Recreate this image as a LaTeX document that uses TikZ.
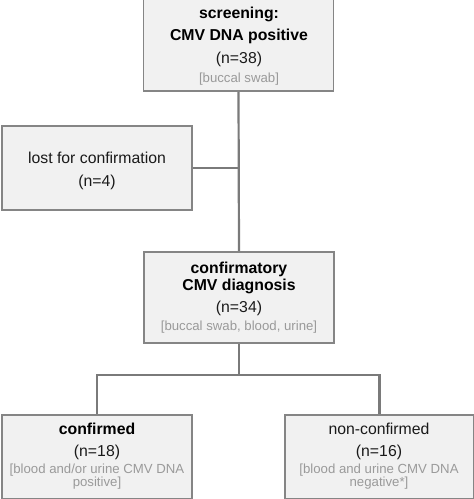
\documentclass[tikz,border=0pt]{standalone}
\usepackage{fontspec}
\setmainfont{Liberation Sans}
\definecolor{boxfill}{HTML}{F1F1F1}
\definecolor{boxline}{HTML}{858585}
\definecolor{conn}{HTML}{7A7A7A}
\definecolor{maintext}{HTML}{1A1A1A}
\definecolor{subtext}{HTML}{9A9A9A}
\pgfdeclarelayer{bg}
\pgfsetlayers{bg,main}
\tikzset{
  box/.style={draw=boxline, line width=1.6pt, fill=boxfill, inner sep=0pt},
  connector/.style={draw=conn, line width=2.2pt},
  ttl/.style={anchor=base, inner sep=0pt, font=\fontsize{15.8}{18}\selectfont\bfseries, text=black},
  txt/.style={anchor=base, inner sep=0pt, font=\fontsize{15.8}{18}\selectfont, text=maintext},
  sub/.style={anchor=base, inner sep=0pt, font=\fontsize{13.2}{15}\selectfont, text=subtext},
}
\begin{document}
\begin{tikzpicture}[x=1pt, y=-1pt]
\useasboundingbox (0,0) rectangle (474,499);
% boxes
\node[box, minimum width=190pt, minimum height=92pt] (top) at (238.5,45) {};
\node[box, minimum width=190pt, minimum height=84pt] (lost) at (97,168) {};
\node[box, minimum width=190pt, minimum height=91pt] (conf) at (239,297.5) {};
\node[box, minimum width=190pt, minimum height=84pt] (yes) at (97,457) {};
\node[box, minimum width=189pt, minimum height=84pt] (no) at (379.5,457) {};
% connectors
\begin{pgfonlayer}{bg}
\coordinate (mid) at (top.south |- lost.east);
\coordinate (split) at ([yshift=-31pt]conf.south);
\draw[connector] (top.south) -- (conf.north);
\draw[connector] (mid) -- (lost.east);
\draw[connector] (conf.south) -- (split);
\draw[connector, line cap=rect] (split -| yes.north) -- (split -| no.north);
\draw[connector] (split -| yes.north) -- (yes.north);
\draw[connector] (split -| no.north) -- (no.north);
\end{pgfonlayer}
% text: screening
\node[ttl] (t1) at (239,18.5) {screening:};
\node[ttl] (t2) at (239,40.7) {CMV DNA positive};
\node[txt] (t3) at (239,63.5) {(n=38)};
\node[sub] (t4) at (239,82.7) {[buccal swab]};
% lost
\node[txt] (l1) at (97,163) {lost for confirmation};
\node[txt] (l2) at (97,186.5) {(n=4)};
% confirmatory
\node[ttl] (c1) at (239,273) {confirmatory};
\node[ttl] (c2) at (239,290) {CMV diagnosis};
\node[txt] (c3) at (239,312) {(n=34)};
\node[sub] (c4) at (239,330) {[buccal swab, blood, urine]};
% confirmed
\node[ttl] (y1) at (97,434) {confirmed};
\node[txt] (y2) at (97,456.5) {(n=18)};
\node[sub] (y3) at (97,473.5) {[blood and/or urine CMV DNA};
\node[sub] (y4) at (97,486.5) {positive]};
% non-confirmed
\node[txt] (n1) at (379,434) {non-confirmed};
\node[txt] (n2) at (379,456.5) {(n=16)};
\node[sub] (n3) at (379,473.5) {[blood and urine CMV DNA};
\node[sub] (n4) at (379,486.5) {negative*]};
\end{tikzpicture}
\end{document}
